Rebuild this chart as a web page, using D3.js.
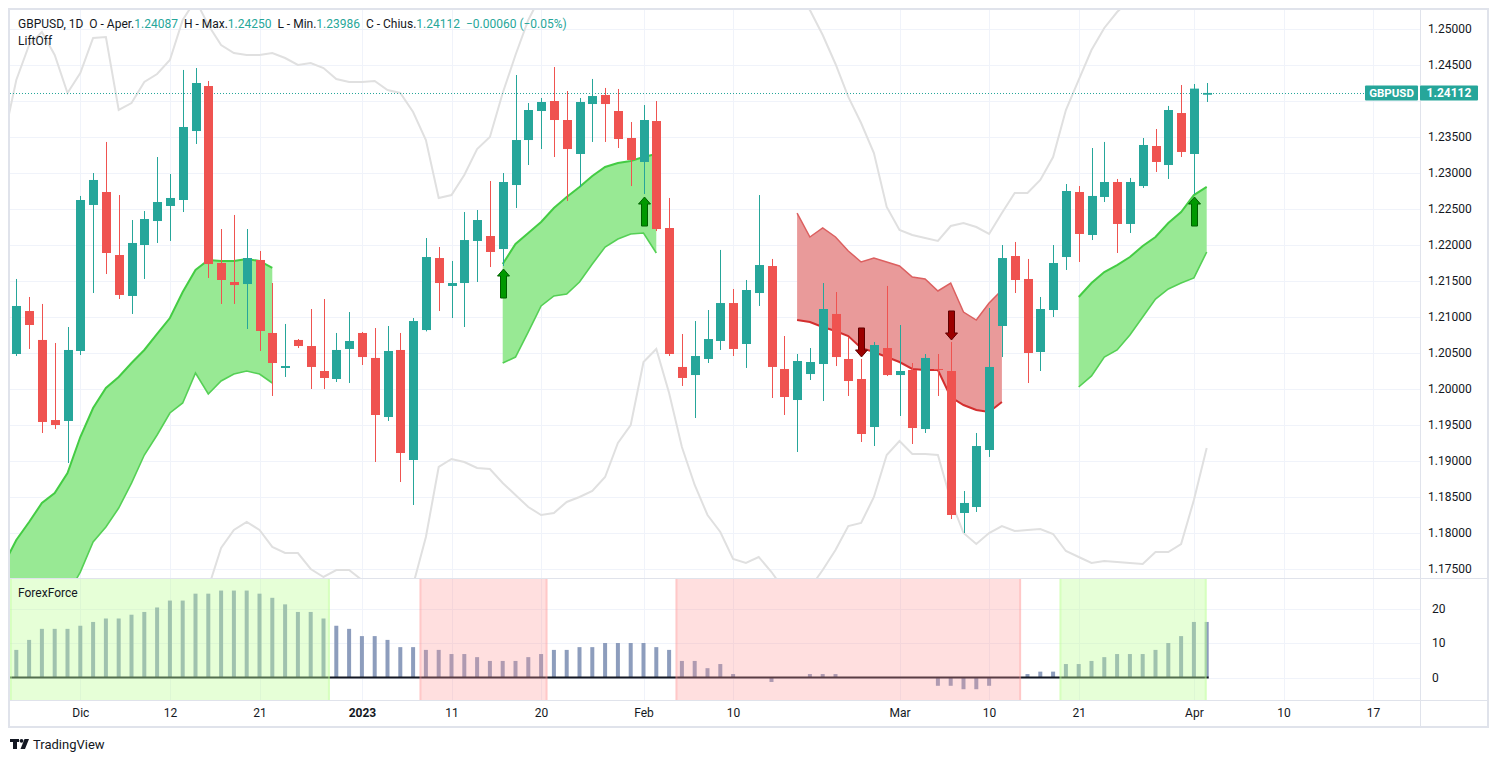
<!DOCTYPE html>
<html>
<head>
<meta charset="utf-8">
<script src="https://cdn.jsdelivr.net/npm/d3@7"></script>
<style>
  body { margin: 0; background: #fff; }
  svg { display: block; font-family: Roboto, "Liberation Sans", sans-serif; }
</style>
</head>
<body>
<div id="chart"></div>
<script>
// daily GBPUSD candles, Nov 24 2022 -> Apr 4 2023 (bar index 0..93)
var opens = [1.20486,1.21083,1.20681,1.19569,1.19556,1.20528,1.22556,1.22736,1.21861,1.21292,
  1.22000,1.22333,1.22542,1.22625,1.23583,1.24208,1.21750,1.21486,1.21458,1.21792,
  1.20778,1.20292,1.20681,1.20597,1.20250,1.20139,1.20556,1.20778,1.20431,1.19611,
  1.20542,1.19014,1.20819,1.21819,1.21431,1.21472,1.22056,1.22125,1.21944,1.22833,
  1.23458,1.23861,1.24000,1.23736,1.23264,1.23958,1.24083,1.23861,1.23486,1.23153,
  1.23722,1.22236,1.20306,1.20194,1.20417,1.20667,1.21194,1.20625,1.21333,1.21708,
  1.20278,1.19847,1.20208,1.20347,1.21042,1.20417,1.20139,1.19472,1.20569,1.20194,
  1.20264,1.19444,1.20278,1.20250,1.18278,1.18361,1.19153,1.20875,1.21847,1.21528,
  1.20514,1.21097,1.21833,1.22736,1.22139,1.22667,1.22875,1.22292,1.22819,1.23375,
  1.23111,1.23833,1.23264,1.24087];
var highs = [1.21528,1.21278,1.21181,1.20639,1.20861,1.22681,1.23000,1.23431,1.22694,1.22347,
  1.22472,1.23222,1.22986,1.24431,1.24458,1.24278,1.22222,1.22417,1.22222,1.21917,
  1.21472,1.20903,1.20694,1.21111,1.21250,1.20778,1.21069,1.20792,1.20847,1.20875,
  1.20778,1.20986,1.22097,1.21972,1.21778,1.22458,1.22486,1.22889,1.23000,1.24361,
  1.23972,1.24042,1.24472,1.24139,1.24042,1.24306,1.24181,1.24167,1.23708,1.23944,
  1.24000,1.22653,1.20764,1.20944,1.21097,1.21931,1.21389,1.21514,1.22694,1.21806,
  1.20736,1.20486,1.20569,1.21472,1.21347,1.20722,1.20417,1.20653,1.21431,1.20889,
  1.20361,1.20486,1.20486,1.20653,1.18583,1.19389,1.21125,1.22000,1.22042,1.21806,
  1.21278,1.22000,1.22847,1.22819,1.23347,1.23431,1.22917,1.22931,1.23486,1.23611,
  1.23931,1.24222,1.24236,1.24250];
var lows = [1.20458,1.20556,1.19389,1.19444,1.18972,1.20472,1.21333,1.21597,1.21250,1.21042,
  1.21528,1.22028,1.22056,1.22458,1.23403,1.21542,1.21181,1.21181,1.20833,1.20528,
  1.19903,1.20167,1.20569,1.20000,1.20000,1.20097,1.20083,1.20333,1.18986,1.19556,
  1.18708,1.18389,1.20800,1.21083,1.20986,1.20861,1.21486,1.21694,1.21708,1.22514,
  1.23111,1.23333,1.23222,1.22611,1.22806,1.23431,1.23431,1.23347,1.22819,1.22708,
  1.22194,1.20458,1.20042,1.19597,1.20361,1.20542,1.20458,1.20292,1.21153,1.19875,
  1.19639,1.19125,1.20125,1.19833,1.20319,1.19903,1.19264,1.19208,1.20180,1.19625,
  1.19236,1.19389,1.19903,1.18194,1.18000,1.18292,1.19056,1.20444,1.21333,1.20083,
  1.20250,1.21000,1.21653,1.21764,1.22069,1.22597,1.21889,1.22167,1.22792,1.23014,
  1.22917,1.23222,1.22708,1.23986];
var closes = [1.21153,1.20889,1.19542,1.19500,1.20542,1.22625,1.22903,1.21889,1.21306,1.22028,
  1.22361,1.22597,1.22653,1.23639,1.24250,1.21736,1.21514,1.21444,1.21819,1.20806,
  1.20361,1.20319,1.20597,1.20306,1.20153,1.20542,1.20667,1.20444,1.19639,1.20528,
  1.19111,1.20944,1.21833,1.21472,1.21472,1.22069,1.22347,1.21903,1.22875,1.23458,
  1.23875,1.23986,1.23736,1.23333,1.23986,1.24069,1.23958,1.23472,1.23181,1.23736,
  1.22222,1.20486,1.20153,1.20458,1.20694,1.21194,1.20556,1.21375,1.21722,1.20306,
  1.19889,1.20389,1.20375,1.21111,1.20444,1.20111,1.19375,1.20611,1.20194,1.20250,
  1.19458,1.20431,1.20264,1.18250,1.18417,1.19208,1.20306,1.21819,1.21514,1.20500,
  1.21111,1.21750,1.22750,1.22153,1.22681,1.22875,1.22292,1.22875,1.23389,1.23153,
  1.23875,1.23292,1.24172,1.24112];

// grey envelope, starts one bar before the first visible candle
var bandStart = -1;
var bandUpper = [1.23458,1.24292,1.24778,1.24958,1.24639,1.24111,1.24389,1.24875,1.24889,1.23875,
  1.23972,1.24264,1.24375,1.24569,1.25125,1.25403,1.25056,1.24778,1.24667,1.24639,
  1.24639,1.24667,1.24597,1.24500,1.24528,1.24458,1.24306,1.24264,1.24264,1.24278,
  1.24153,1.24111,1.23847,1.23458,1.22653,1.22694,1.22972,1.23333,1.23500,1.24111,
  1.24639,1.25125,1.25472,1.25750,1.25958,1.26097,1.26208,1.26236,1.26208,1.26125,
  1.26069,1.26097,1.26167,1.26208,1.26167,1.26097,1.26028,1.25958,1.25889,1.25792,
  1.25681,1.25542,1.25431,1.25264,1.24917,1.24514,1.24056,1.23694,1.23278,1.22528,
  1.22208,1.22139,1.22097,1.22056,1.22264,1.22306,1.22250,1.22153,1.22444,1.22722,
  1.22722,1.22903,1.23222,1.23875,1.24292,1.24708,1.25014,1.25236,1.25403,1.25542,
  1.25653,1.25750,1.25889,1.26069,1.26236];
var bandLower = [1.15681,1.15819,1.15958,1.16028,1.16097,1.16167,1.16236,1.16306,1.16375,1.16444,
  1.16514,1.16583,1.16653,1.16722,1.16861,1.17069,1.17236,1.17792,1.18042,1.18153,
  1.18042,1.17806,1.17722,1.17722,1.17500,1.17389,1.17486,1.17486,1.17347,1.17069,
  1.16861,1.17000,1.17278,1.17944,1.18917,1.19028,1.18986,1.18903,1.18889,1.18694,
  1.18528,1.18361,1.18250,1.18278,1.18431,1.18500,1.18583,1.18778,1.19250,1.19500,
  1.20375,1.20556,1.19944,1.19194,1.18667,1.18250,1.18014,1.17639,1.17583,1.17667,
  1.17458,1.17208,1.17097,1.17236,1.17486,1.17764,1.18097,1.18139,1.18500,1.19083,
  1.19278,1.19097,1.19097,1.19083,1.18458,1.18000,1.17847,1.18000,1.18097,1.18028,
  1.18042,1.18056,1.17986,1.17750,1.17667,1.17583,1.17611,1.17597,1.17583,1.17569,
  1.17736,1.17736,1.17847,1.18458,1.19181];

// LiftOff clouds
var bullCloud1Start = -1;
var bullCloud1Top = [1.17556,1.17903,1.18153,1.18417,1.18556,1.18833,1.19333,1.19736,1.20014,1.20167,
  1.20361,1.20542,1.20764,1.20986,1.21347,1.21653,1.21792,1.21778,1.21778,1.21806,1.21778,1.21681];
var bullCloud1Bottom = [1.15958,1.16236,1.16444,1.16653,1.16903,1.17139,1.17458,1.17875,1.18083,1.18347,
  1.18694,1.19083,1.19361,1.19667,1.19806,1.20222,1.19931,1.20111,1.20208,1.20250,1.20208,1.20083];
var bullCloud2Start = 38;
var bullCloud2Top = [1.21736,1.22014,1.22167,1.22319,1.22514,1.22667,1.22806,1.22958,1.23083,1.23139,1.23167,1.23222,1.23264];
var bullCloud2Bottom = [1.20361,1.20444,1.20792,1.21153,1.21292,1.21319,1.21486,1.21736,1.21972,1.22083,1.22153,1.22167,1.21889];
var bullCloud3Start = 83;
var bullCloud3Top = [1.21278,1.21472,1.21625,1.21722,1.21833,1.21986,1.22111,1.22306,1.22458,1.22694,1.22806];
var bullCloud3Bottom = [1.20028,1.20181,1.20444,1.20542,1.20750,1.21000,1.21250,1.21389,1.21472,1.21542,1.21903];
var bearCloudStart = 61;
var bearCloudTop = [1.22444,1.22111,1.22236,1.22111,1.21917,1.21764,1.21819,1.21764,1.21708,1.21556,
  1.21528,1.21361,1.21472,1.21069,1.20958,1.21194,1.21375];
var bearCloudBottom = [1.20958,1.20931,1.20861,1.20806,1.20736,1.20570,1.20514,1.20444,1.20375,1.20278,
  1.20264,1.20264,1.19889,1.19778,1.19708,1.19681,1.19819];

var arrowsUp = [38, 49, 92];
var arrowsDown = [66, 73];

// ForexForce histogram
var forceValues = [8.0,10.9,14.1,14.1,14.1,15.0,16.1,17.1,17.1,18.2,
  19.0,20.3,22.3,22.3,24.3,24.3,25.2,25.2,25.2,24.3,
  23.1,21.2,19.0,19.0,17.1,15.0,14.1,12.0,12.0,10.9,
  8.8,8.8,8.0,8.0,6.8,6.8,5.9,4.8,4.8,4.8,
  5.9,6.8,8.0,8.0,8.8,8.8,10.0,10.0,10.0,10.0,
  8.8,8.0,4.8,4.8,2.7,3.9,1.0,0,0,-1.3,
  0,0,1.0,1.0,1.0,0,0,0,0,0,
  0,0,-2.4,-2.4,-3.4,-3.4,-2.4,0,0,1.0,
  1.7,1.7,3.9,3.9,4.8,5.9,6.8,6.8,6.8,8.0,
  10.0,12.0,16.1,16.1];
var bullZones = [[0, 24], [82, 93]];
var bearZones = [[32, 41], [52, 78]];

var tickIdx = [5, 12, 19, 27, 34, 41, 49, 56, 69, 76, 83, 92, 99, 106];
var tickLabels = ["Dic", "12", "21", "2023", "11", "20", "Feb", "10", "Mar", "10", "21", "Apr", "10", "17"];
var forceTicks = [0, 10, 20];

var width = 1493, height = 762;
var padLeft = 10, padRight = 1420, paneTop = 10, mainBottom = 578, subBottom = 700, axisBottom = 727;
var teal = "#26a69a", red = "#ef5350", grid = "#f0f3fa", border = "#e0e3eb", textCol = "#131722";

var svg = d3.select("#chart").append("svg")
    .attr("width", width)
    .attr("height", height);

svg.append("rect").attr("width", width).attr("height", height).attr("fill", "#fff");

var x = d3.scaleLinear().domain([0, 93]).range([16.3, 1206.7]);
var y = d3.scaleLinear().domain([1.175, 1.25]).range([569, 29]);
var sy = d3.scaleLinear().domain([0, 20]).range([677.5, 608.5]);
var lastIndex = closes.length - 1;

var defs = svg.append("defs");
defs.append("clipPath").attr("id", "clipMain").append("rect")
    .attr("x", padLeft).attr("y", paneTop).attr("width", padRight - padLeft).attr("height", mainBottom - paneTop);
defs.append("clipPath").attr("id", "clipSub").append("rect")
    .attr("x", padLeft).attr("y", mainBottom).attr("width", padRight - padLeft).attr("height", subBottom - mainBottom);

// grid
var priceTicks = y.ticks(16);
svg.append("g").selectAll("line").data(priceTicks).enter().append("line")
    .attr("x1", padLeft).attr("x2", padRight)
    .attr("y1", function(d){ return Math.round(y(d)) + 0.5; }).attr("y2", function(d){ return Math.round(y(d)) + 0.5; })
    .attr("stroke", grid);
svg.append("g").selectAll("line").data(forceTicks).enter().append("line")
    .attr("x1", padLeft).attr("x2", padRight)
    .attr("y1", function(d){ return Math.round(sy(d)) + 0.5; }).attr("y2", function(d){ return Math.round(sy(d)) + 0.5; })
    .attr("stroke", grid);
svg.append("g").selectAll("line").data(tickIdx).enter().append("line")
    .attr("x1", function(d){ return Math.round(x(d)) + 0.5; })
    .attr("x2", function(d){ return Math.round(x(d)) + 0.5; })
    .attr("y1", paneTop).attr("y2", subBottom)
    .attr("stroke", grid);

// ---- main pane
var main = svg.append("g").attr("clip-path", "url(#clipMain)");

function seriesLine(start) {
    return d3.line().x(function(d, i){ return x(start + i); }).y(function(d){ return y(d); });
}
function seriesArea(start, bottom) {
    return d3.area()
        .x(function(d, i){ return x(start + i); })
        .y0(function(d, i){ return y(bottom[i]); })
        .y1(function(d){ return y(d); });
}

// grey envelope
[bandUpper, bandLower].forEach(function(s){
    main.append("path").datum(s)
        .attr("d", seriesLine(bandStart))
        .attr("fill", "none").attr("stroke", "#e0e0e0").attr("stroke-width", 2);
});

// bull clouds
[[bullCloud1Start, bullCloud1Top, bullCloud1Bottom],
 [bullCloud2Start, bullCloud2Top, bullCloud2Bottom],
 [bullCloud3Start, bullCloud3Top, bullCloud3Bottom]].forEach(function(c){
    main.append("path").datum(c[1])
        .attr("d", seriesArea(c[0], c[2]))
        .attr("fill", "#98e994");
    main.append("path").datum(c[1]).attr("d", seriesLine(c[0]))
        .attr("fill", "none").attr("stroke", "#44cc44").attr("stroke-width", 2);
    main.append("path").datum(c[2]).attr("d", seriesLine(c[0]))
        .attr("fill", "none").attr("stroke", "#55d055").attr("stroke-width", 1.6);
});

// bear cloud
main.append("path").datum(bearCloudTop)
    .attr("d", seriesArea(bearCloudStart, bearCloudBottom))
    .attr("fill", "#e99a9a");
main.append("path").datum(bearCloudTop).attr("d", seriesLine(bearCloudStart))
    .attr("fill", "none").attr("stroke", "#dc6060").attr("stroke-width", 1.5);
main.append("path").datum(bearCloudBottom).attr("d", seriesLine(bearCloudStart))
    .attr("fill", "none").attr("stroke", "#d32f2f").attr("stroke-width", 2);

// current price dotted line
main.append("line")
    .attr("x1", padLeft).attr("x2", padRight)
    .attr("y1", Math.round(y(closes[lastIndex])) + 0.5).attr("y2", Math.round(y(closes[lastIndex])) + 0.5)
    .attr("stroke", teal).attr("stroke-dasharray", "1,2");

// candles
var candles = main.append("g").selectAll("g").data(d3.range(closes.length)).enter().append("g");
candles.append("line")
    .attr("x1", function(i){ return Math.round(x(i)) + 0.5; })
    .attr("x2", function(i){ return Math.round(x(i)) + 0.5; })
    .attr("y1", function(i){ return y(highs[i]); })
    .attr("y2", function(i){ return y(lows[i]); })
    .attr("stroke", function(i){ return closes[i] >= opens[i] ? teal : red; });
candles.append("rect")
    .attr("x", function(i){ return Math.round(x(i)) - 4; })
    .attr("width", 9)
    .attr("y", function(i){ return y(Math.max(opens[i], closes[i])); })
    .attr("height", function(i){ return Math.max(1, Math.abs(y(opens[i]) - y(closes[i]))); })
    .attr("fill", function(i){ return closes[i] >= opens[i] ? teal : red; });

// signal arrows
var upPath = "M0,0 L6,7 L3,7 L3,29 L-3,29 L-3,7 L-6,7 Z";
main.append("g").selectAll("path").data(arrowsUp).enter().append("path")
    .attr("d", upPath)
    .attr("transform", function(i){ return "translate(" + (Math.round(x(i)) + 0.5) + "," + (y(lows[i]) + 3) + ")"; })
    .attr("fill", "#009900").attr("stroke", "#005f00").attr("stroke-width", 1);
main.append("g").selectAll("path").data(arrowsDown).enter().append("path")
    .attr("d", upPath)
    .attr("transform", function(i){ return "translate(" + (Math.round(x(i)) + 0.5) + "," + (y(highs[i]) - 2) + ") scale(1,-1)"; })
    .attr("fill", "#9c0000").attr("stroke", "#600000").attr("stroke-width", 1);

// ---- sub pane (ForexForce)
var sub = svg.append("g").attr("clip-path", "url(#clipSub)");
sub.append("g").selectAll("rect").data(forceValues).enter().append("rect")
    .attr("x", function(d, i){ return x(i) - 2; })
    .attr("width", 4)
    .attr("y", function(d){ return sy(Math.max(0, d)); })
    .attr("height", function(d){ return Math.abs(sy(d) - sy(0)); })
    .attr("fill", "#8d9dbd");
sub.append("line")
    .attr("x1", padLeft).attr("x2", x(lastIndex) + 2)
    .attr("y1", sy(0)).attr("y2", sy(0))
    .attr("stroke", textCol).attr("stroke-width", 2);

function zoneRects(zones, fill) {
    zones.forEach(function(z){
        var x0 = x(z[0] - 0.5), x1 = Math.min(x(z[1] + 0.5), x(lastIndex));
        sub.append("rect").attr("x", x0).attr("y", mainBottom)
            .attr("width", x1 - x0).attr("height", subBottom - mainBottom)
            .attr("fill", fill);
        [x0 + 1, x1 - 1].forEach(function(e){
            sub.append("line").attr("x1", e).attr("x2", e)
                .attr("y1", mainBottom).attr("y2", subBottom)
                .attr("stroke", fill).attr("stroke-width", 2);
        });
    });
}
zoneRects(bullZones, "rgba(190,255,150,0.38)");
zoneRects(bearZones, "rgba(255,150,150,0.3)");

// ---- frame
svg.append("rect").attr("x", 9).attr("y", 9).attr("width", 1479).attr("height", axisBottom - 9)
    .attr("fill", "none").attr("stroke", border).attr("stroke-width", 2);
svg.append("line").attr("x1", padLeft).attr("x2", 1488).attr("y1", mainBottom + 0.5).attr("y2", mainBottom + 0.5)
    .attr("stroke", border);
svg.append("line").attr("x1", padLeft).attr("x2", 1488).attr("y1", subBottom + 0.5).attr("y2", subBottom + 0.5)
    .attr("stroke", border);
svg.append("line").attr("x1", padRight + 0.5).attr("x2", padRight + 0.5).attr("y1", 9).attr("y2", axisBottom)
    .attr("stroke", border);

// ---- axes
var lastY = y(closes[lastIndex]);
var priceAxis = svg.append("g")
    .attr("transform", "translate(" + (padRight + 2) + ",0)")
    .call(d3.axisRight(y).tickValues(priceTicks.filter(function(d){ return Math.abs(y(d) - lastY) > 10; }))
        .tickFormat(d3.format(".5f")).tickSize(0).tickPadding(6));
var forceAxis = svg.append("g")
    .attr("transform", "translate(" + (padRight + 2) + ",0)")
    .call(d3.axisRight(sy).tickValues(forceTicks).tickSize(0).tickPadding(10));
var timeAxis = svg.append("g")
    .attr("transform", "translate(0," + subBottom + ")")
    .call(d3.axisBottom(x).tickValues(tickIdx)
        .tickFormat(function(d, i){ return tickLabels[i]; })
        .tickSize(0).tickPadding(8));
[priceAxis, forceAxis, timeAxis].forEach(function(a){
    a.select(".domain").remove();
    a.selectAll("text").attr("fill", textCol).style("font-size", "12px")
        .style("font-family", "Roboto, 'Liberation Sans', sans-serif");
});
timeAxis.selectAll("text").filter(function(d, i){ return tickLabels[i] === "2023"; })
    .style("font-weight", "bold");

// last price tags
svg.append("rect").attr("x", 1365).attr("y", lastY - 7.5).attr("width", 53).attr("height", 15)
    .attr("fill", teal).attr("rx", 1);
svg.append("text").attr("x", 1391.5).attr("y", lastY + 4).attr("text-anchor", "middle")
    .attr("fill", "#fff").style("font-size", "11.5px").style("font-weight", "bold").text("GBPUSD");
svg.append("rect").attr("x", 1420).attr("y", lastY - 7.5).attr("width", 58).attr("height", 15)
    .attr("fill", teal).attr("rx", 1);
svg.append("text").attr("x", 1449).attr("y", lastY + 4).attr("text-anchor", "middle")
    .attr("fill", "#fff").style("font-size", "12px").style("font-weight", "bold")
    .text(d3.format(".5f")(closes[lastIndex]));

// ---- legend texts
var fmt = d3.format(".5f");
var chg = closes[lastIndex] - closes[lastIndex - 1];
var legend = svg.append("text").attr("x", 18).attr("y", 28)
    .style("font-size", "12px").style("white-space", "pre").attr("fill", textCol);
[["GBPUSD, 1D  O - Aper.", textCol], [fmt(opens[lastIndex]), teal],
 ["  H - Max.", textCol], [fmt(highs[lastIndex]), teal],
 ["  L - Min.", textCol], [fmt(lows[lastIndex]), teal],
 ["  C - Chius.", textCol],
 [fmt(closes[lastIndex]) + "  \u2212" + fmt(Math.abs(chg)) + " (\u2212" + d3.format(".2f")(Math.abs(chg) / closes[lastIndex - 1] * 100) + "%)", teal]
].forEach(function(p){
    legend.append("tspan").attr("fill", p[1]).text(p[0]);
});
svg.append("text").attr("x", 18).attr("y", 45).attr("fill", textCol)
    .style("font-size", "12px").text("LiftOff");
svg.append("text").attr("x", 18).attr("y", 597).attr("fill", textCol)
    .style("font-size", "12px").text("ForexForce");

// ---- TradingView mark
var logo = svg.append("g").attr("fill", textCol);
logo.append("path").attr("d", "M10,739 H19 V742 H17 V749 H13 V742 H10 Z");
logo.append("circle").attr("cx", 21.5).attr("cy", 740.8).attr("r", 1.9);
logo.append("path").attr("d", "M24.5,739 H29 L25,749 H20.5 Z");
svg.append("text").attr("x", 33).attr("y", 749).attr("fill", textCol)
    .style("font-size", "13px").text("TradingView");
</script>
</body>
</html>
